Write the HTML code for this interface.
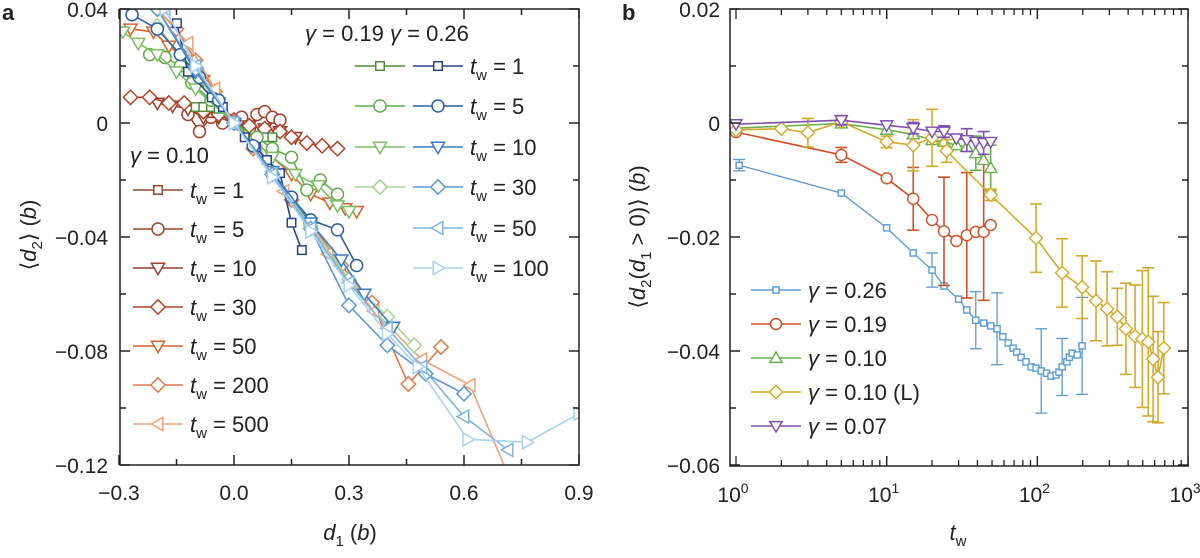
<!DOCTYPE html>
<html><head><meta charset="utf-8">
<style>
body{margin:0;background:#fff;width:1200px;height:553px;overflow:hidden;font-family:"Liberation Sans",sans-serif;}
svg text{font-family:"Liberation Sans",sans-serif;fill:#222;}
</style></head>
<body>
<svg id="c" width="1200" height="553" viewBox="0 0 1200 553" xmlns="http://www.w3.org/2000/svg">
<defs>
<clipPath id="clipA"><rect x="120" y="9" width="459" height="456"/></clipPath>
<clipPath id="clipB"><rect x="730" y="9" width="458" height="457"/></clipPath>
</defs>
</svg>
<script>
// ---------- Panel a data ----------
const a_names=['g010-tw1','g010-tw5','g010-tw10','g010-tw30','g010-tw50','g010-tw200','g010-tw500','g019-tw1','g019-tw5','g019-tw10','g019-tw30','g026-tw1','g026-tw5','g026-tw10','g026-tw30','g026-tw50','g026-tw100'];
const a_colors=['#8c4b2f','#a2412a','#9c3f26','#b2442a','#d9622a','#e07a4c','#eea27a','#4e8c3c','#5fae4c','#79bf63','#a8d594','#23468a','#2e5fa2','#3a7cc4','#5b9ad4','#7fb3e2','#a9d1f0'];
const a_markers=['sq','ci','td','di','td','di','tl','sq','ci','td','di','sq','ci','td','di','tl','tr'];
const a_x=[
[-0.06,-0.05,-0.04,-0.03,-0.02,-0.01,0,0.01,0.02,0.03,0.035],
[-0.12,-0.09,-0.06,-0.03,0,0.02,0.04,0.06,0.08,0.1,0.12],
[-0.2,-0.16,-0.12,-0.08,-0.04,0,0.04,0.08,0.12,0.16],
[-0.27,-0.22,-0.17,-0.13,-0.08,-0.04,0,0.04,0.08,0.12,0.15,0.19,0.23,0.27],
[-0.27,-0.21,-0.17,-0.12,-0.08,-0.04,0,0.05,0.1,0.15,0.2,0.25,0.29,0.32],
[-0.2,-0.15,-0.1,-0.05,0,0.05,0.1,0.15,0.2,0.28,0.36,0.455,0.54],
[-0.2,-0.12,-0.05,0,0.06,0.13,0.2,0.245,0.365,0.49,0.616,0.72],
[-0.1,-0.08,-0.06,-0.04,0,0.06,0.08,0.1],
[-0.22,-0.18,-0.14,-0.11,-0.06,0,0.06,0.1,0.15,0.19,0.225,0.27],
[-0.29,-0.25,-0.2,-0.15,-0.1,0,0.1,0.16,0.22,0.27,0.3],
[-0.2,-0.1,0,0.1,0.2,0.3,0.4,0.47],
[-0.149,-0.12,-0.058,-0.029,0,0.028,0.057,0.086,0.12,0.15,0.177],
[-0.266,-0.2,-0.14,-0.09,-0.04,0,0.05,0.1,0.15,0.2,0.27,0.32],
[-0.2,-0.1,0,0.1,0.2,0.28,0.34,0.415],
[-0.2,-0.1,0,0.1,0.2,0.3,0.4,0.5,0.6],
[-0.18,-0.1,0,0.1,0.2,0.3,0.4,0.49,0.6,0.715],
[-0.18,-0.1,0,0.1,0.2,0.3,0.4,0.48,0.61,0.765,0.9]];
const a_y=[
[0.005,0.004,0.003,0.002,0.0015,0.001,0,-0.0005,-0.001,-0.002,-0.0025],
[0.003,-0.003,0.002,0,0.001,0.002,-0.002,0.003,0.004,0.002,0.001],
[0.007,0.006,0.005,0.002,0.002,0,-0.001,-0.002,-0.003,-0.005],
[0.009,0.009,0.007,0.007,0.004,0.003,0.001,-0.001,-0.002,-0.003,-0.005,-0.007,-0.008,-0.009],
[0.033,0.032,0.027,0.022,0.015,0.007,0,-0.006,-0.012,-0.018,-0.025,-0.028,-0.03,-0.031],
[0.04,0.033,0.022,0.011,0,-0.009,-0.018,-0.027,-0.035,-0.05,-0.063,-0.0916,-0.0786],
[0.04,0.028,0.012,0,-0.01,-0.024,-0.036,-0.046,-0.066,-0.083,-0.092,-0.125],
[0.0056,0.0056,0.0056,0.005,0,-0.005,-0.005,-0.005],
[0.024,0.023,0.02,0.014,0.008,0,-0.005,-0.009,-0.012,-0.0235,-0.02,-0.025],
[0.032,0.028,0.024,0.018,0.012,0,-0.012,-0.018,-0.022,-0.029,-0.031],
[0.034,0.017,0,-0.017,-0.036,-0.055,-0.068,-0.078],
[0.035,0.018,0.009,0.0056,0,-0.005,-0.0085,-0.013,-0.0176,-0.035,-0.0446],
[0.038,0.033,0.024,0.016,0.008,0,-0.008,-0.018,-0.026,-0.034,-0.0375,-0.05],
[0.04,0.018,0,-0.017,-0.035,-0.048,-0.06,-0.0716],
[0.04,0.019,0,-0.018,-0.037,-0.064,-0.078,-0.088,-0.095],
[0.04,0.02,0,-0.018,-0.037,-0.056,-0.072,-0.0856,-0.103,-0.1147],
[0.04,0.02,0,-0.019,-0.038,-0.057,-0.074,-0.0856,-0.111,-0.112,-0.102]];
const a_xticks=[-0.3,0.0,0.3,0.6,0.9];
const a_xtickLabels=['\u22120.3','0.0','0.3','0.6','0.9'];
const a_yticks=[0.04,0,-0.04,-0.08,-0.12];
const a_ytickLabels=['0.04','0','\u22120.04','\u22120.08','\u22120.12'];

// ---------- Panel b data ----------
const b_names=['gamma-026','gamma-019','gamma-010','gamma-010-L','gamma-007'];
const b_colors=['#5b9bd5','#d0502a','#6ab04c','#d4aa2a','#7f4fb0'];
const b_markers=['sq','ci','tu','di','td'];
const b_tw=[
[1.05,5,10,15,20,24,30,34,39,44,49,54,59,64,69,73,78,84,91,98,106,115,123,133,139,146,157,163,170,184,198],
[1,5,10,15,20,24,29,34,39,44,49],
[1,5,10,15,20,24,29,34,39,44,49],
[1,2,3,5,10,15,20,25,49,98,146,198,245,290,339,387,445,497,544,586,632,690],
[1,5,10,15,20,24,29,34,39,44,49]];
const b_v=[
[-0.0074,-0.0123,-0.0184,-0.0228,-0.0258,-0.0286,-0.0309,-0.0328,-0.0346,-0.0351,-0.0356,-0.0361,-0.0375,-0.0386,-0.0395,-0.0402,-0.0411,-0.0419,-0.0428,-0.043,-0.0435,-0.0439,-0.0444,-0.0442,-0.0437,-0.0428,-0.0419,-0.0411,-0.0404,-0.0407,-0.0391],
[-0.0016,-0.0056,-0.0097,-0.0133,-0.017,-0.019,-0.0207,-0.0197,-0.0191,-0.0191,-0.0179],
[-0.0009,-0.0001,-0.0012,-0.002,-0.003,-0.0033,-0.0039,-0.0042,-0.0053,-0.0065,-0.0079],
[-0.0012,-0.001,-0.0017,0.0002,-0.0033,-0.0039,-0.0026,-0.0049,-0.0126,-0.0202,-0.0263,-0.0288,-0.0312,-0.0326,-0.034,-0.0361,-0.0374,-0.0379,-0.0384,-0.0414,-0.0446,-0.0395],
[-0.0002,0.0005,-0.0004,-0.0009,-0.0015,-0.0015,-0.0027,-0.003,-0.0033,-0.0035,-0.0033]];
const b_err=[
[0.001,0,0,0,0.003,0,0,0,0.005,0,0,0.0063,0,0,0,0,0,0,0,0,0.0074,0,0,0,0,0.005,0,0,0,0,0.0085],
[0,0.0013,0,0.0055,0,0.0095,0,0.011,0,0.012,0],
[0,0,0,0,0,0,0,0,0.003,0,0.004],
[0,0,0.0025,0.0005,0.001,0.0045,0.005,0.002,0.001,0.006,0.006,0.0055,0.007,0.0065,0.005,0.008,0.009,0.012,0.013,0.011,0.008,0.008],
[0,0.0008,0,0.001,0,0.001,0,0.002,0,0.002,0]];
const b_labels=['\u03b3 = 0.26','\u03b3 = 0.19','\u03b3 = 0.10','\u03b3 = 0.10 (L)','\u03b3 = 0.07'];
const b_yticks=[0.02,0,-0.02,-0.04,-0.06];
const b_ytickLabels=['0.02','0','\u22120.02','\u22120.04','\u22120.06'];
const b_xdecades=[0,1,2,3];

const NS='http://www.w3.org/2000/svg';
const svg=document.getElementById('c');
function mk(tag,attrs,parent){const e=document.createElementNS(NS,tag);for(const k in attrs)e.setAttribute(k,attrs[k]);(parent||svg).appendChild(e);return e;}

const ax=v=>234+(v)*383.33;
const ay=v=>123-(v)*2850;
const bx=t=>736+Math.log10(t)*150.7;
const by=v=>123-(v)*5700;

function marker(g,type,x,y,r,color,sw){
  let e;
  if(type==='sq') e=mk('rect',{x:x-r*0.85,y:y-r*0.85,width:r*1.7,height:r*1.7},g);
  else if(type==='ci') e=mk('circle',{cx:x,cy:y,r:r},g);
  else if(type==='di') e=mk('polygon',{points:`${x},${y-r*1.2} ${x+r*1.2},${y} ${x},${y+r*1.2} ${x-r*1.2},${y}`},g);
  else if(type==='td') e=mk('polygon',{points:`${x-r*1.1},${y-r*0.8} ${x+r*1.1},${y-r*0.8} ${x},${y+r*1.1}`},g);
  else if(type==='tu') e=mk('polygon',{points:`${x-r*1.1},${y+r*0.8} ${x+r*1.1},${y+r*0.8} ${x},${y-r*1.1}`},g);
  else if(type==='tl') e=mk('polygon',{points:`${x+r*0.8},${y-r*1.1} ${x+r*0.8},${y+r*1.1} ${x-r*1.1},${y}`},g);
  else e=mk('polygon',{points:`${x-r*0.8},${y-r*1.1} ${x-r*0.8},${y+r*1.1} ${x+r*1.1},${y}`},g);
  e.setAttribute('fill','#fff');e.setAttribute('stroke',color);e.setAttribute('stroke-width',sw);
  
  
  return e;
}

// ---------- Panel a ----------
const gA=mk('g',{'clip-path':'url(#clipA)'});


for(let s=0;s<a_x.length;s++){
  const g=mk('g',{},gA);
  
  
  const pts=a_x[s].map((v,i)=>ax(v)+','+ay(a_y[s][i])).join(' ');
  const l=mk('polyline',{points:pts,fill:'none',stroke:a_colors[s],'stroke-width':1.6},g);
  
  
  for(let i=0;i<a_x[s].length;i++) marker(g,a_markers[s],ax(a_x[s][i]),ay(a_y[s][i]),a_markers[s]==='sq'?5:6,a_colors[s],1.5);
}
const fa=mk('rect',{x:120,y:9,width:459,height:456,fill:'none',stroke:'#222','stroke-width':1.5});


for(let v=-0.3;v<=0.9001;v+=0.15){
  const major=Math.abs((v/0.3)-Math.round(v/0.3))<1e-6;const L=major?10:6;
  mk('line',{x1:ax(v),x2:ax(v),y1:465,y2:465-L,stroke:'#222','stroke-width':1.5});
  mk('line',{x1:ax(v),x2:ax(v),y1:9,y2:9+L,stroke:'#222','stroke-width':1.5});
}
for(let v=0.04;v>=-0.12001;v-=0.02){
  const major=Math.abs((v/0.04)-Math.round(v/0.04))<1e-6;const L=major?10:6;
  mk('line',{x1:120,x2:120+L,y1:ay(v),y2:ay(v),stroke:'#222','stroke-width':1.5});
  mk('line',{x1:579,x2:579-L,y1:ay(v),y2:ay(v),stroke:'#222','stroke-width':1.5});
}
a_xticks.forEach((v,i)=>{const t=mk('text',{x:ax(v),y:500,'text-anchor':'middle','font-size':21});t.textContent=a_xtickLabels[i];

});
a_yticks.forEach((v,i)=>{const t=mk('text',{x:108,y:ay(v)+8,'text-anchor':'end','font-size':21});t.textContent=a_ytickLabels[i];

});
function legRow(x0,y,color,m,label,size){
  const g=mk('g',{});
  
  
  mk('line',{x1:x0,x2:x0+50,y1:y,y2:y,stroke:color,'stroke-width':1.6},g);
  marker(g,m,x0+25,y,m==='sq'?(size||5):(size?size+1:6),color,1.5);
  const t=mk('text',{x:x0+57,y:y+8,'font-size':22},g);
  t.innerHTML=label;
  return g;
}
const twL=n=>`<tspan font-style="italic">t</tspan><tspan font-size="15" dy="6">w</tspan><tspan dy="-6"> = ${n}</tspan>`;
const leftTw=[1,5,10,30,50,200,500];
[190,229,268,307,346,385,424].forEach((y,i)=>legRow(133,y,a_colors[i],a_markers[i],twL(leftTw[i])));
const hA=mk('text',{x:130,y:163,'font-size':22});hA.innerHTML='<tspan font-style="italic">γ</tspan> = 0.10';


const hB=mk('text',{x:305,y:41,'font-size':22});hB.innerHTML='<tspan font-style="italic">γ</tspan> = 0.19 <tspan font-style="italic">γ</tspan> = 0.26';


const rightTw=[1,5,10,30,50,100];
[66,106,147,187,228,268].forEach((y,i)=>{
  if(i<4){const g=mk('g',{});mk('line',{x1:355,x2:405,y1:y,y2:y,stroke:a_colors[7+i],'stroke-width':1.6},g);marker(g,a_markers[7+i],380,y,a_markers[7+i]==='sq'?5:6,a_colors[7+i],1.5);
    
    }
  legRow(413,y,a_colors[11+i],a_markers[11+i],twL(rightTw[i]));
});
const ytA=mk('text',{x:0,y:0,'font-size':22,'text-anchor':'middle',transform:'translate(36,235) rotate(-90)'});
ytA.innerHTML='⟨<tspan font-style="italic">d</tspan><tspan font-size="15" dy="6">2</tspan><tspan dy="-6">⟩ (</tspan><tspan font-style="italic">b</tspan>)';


const xtA=mk('text',{x:350,y:540,'font-size':22,'text-anchor':'middle'});
xtA.innerHTML='<tspan font-style="italic">d</tspan><tspan font-size="15" dy="6">1</tspan><tspan dy="-6"> (</tspan><tspan font-style="italic">b</tspan>)';


const la=mk('text',{x:2,y:20,'font-size':22,'font-weight':'bold'});la.textContent='a';



// ---------- Panel b ----------
const gB=mk('g',{'clip-path':'url(#clipB)'});


for(let s=0;s<b_tw.length;s++){
  const g=mk('g',{},gB);
  
  
  const sw=s===0?1.3:1.6;
  for(let i=0;i<b_tw[s].length;i++){const e=b_err[s][i];if(e>0){const x=bx(b_tw[s][i]);
    mk('line',{x1:x,x2:x,y1:by(b_v[s][i]+e),y2:by(b_v[s][i]-e),stroke:b_colors[s],'stroke-width':sw},g);
    mk('line',{x1:x-6,x2:x+6,y1:by(b_v[s][i]+e),y2:by(b_v[s][i]+e),stroke:b_colors[s],'stroke-width':sw},g);
    mk('line',{x1:x-6,x2:x+6,y1:by(b_v[s][i]-e),y2:by(b_v[s][i]-e),stroke:b_colors[s],'stroke-width':sw},g);}}
  const pts=b_tw[s].map((t,i)=>bx(t)+','+by(b_v[s][i])).join(' ');
  const l=mk('polyline',{points:pts,fill:'none',stroke:b_colors[s],'stroke-width':sw},g);
  
  
  for(let i=0;i<b_tw[s].length;i++) marker(g,b_markers[s],bx(b_tw[s][i]),by(b_v[s][i]),s===0?3.6:5.5,b_colors[s],1.4);
}
const fb=mk('rect',{x:730,y:9,width:458,height:457,fill:'none',stroke:'#222','stroke-width':1.5});


for(let d=0;d<3;d++)for(let k=1;k<=10;k++){const x=bx(k*Math.pow(10,d));const L=(k===1||k===10)?10:6;
  mk('line',{x1:x,x2:x,y1:466,y2:466-L,stroke:'#222','stroke-width':1.3});mk('line',{x1:x,x2:x,y1:9,y2:9+L,stroke:'#222','stroke-width':1.3});}
for(let v=0.02;v>=-0.06001;v-=0.01){const major=Math.abs((v/0.02)-Math.round(v/0.02))<1e-6;const L=major?10:6;
  mk('line',{x1:730,x2:730+L,y1:by(v),y2:by(v),stroke:'#222','stroke-width':1.5});
  mk('line',{x1:1188,x2:1188-L,y1:by(v),y2:by(v),stroke:'#222','stroke-width':1.5});}
b_xdecades.forEach(d=>{const t=mk('text',{x:bx(Math.pow(10,d))-3,y:502,'text-anchor':'middle','font-size':21});
  t.innerHTML=`10<tspan font-size="14" dy="-9">${d}</tspan>`;
  
  });
b_yticks.forEach((v,i)=>{const t=mk('text',{x:720,y:by(v)+8,'text-anchor':'end','font-size':21});t.textContent=b_ytickLabels[i];
  
  });
[290,324,358,392,426].forEach((y,i)=>legRow(751,y,b_colors[i],b_markers[i],'<tspan font-style="italic">γ</tspan>'+b_labels[i].slice(1),i===0?3.6:4.5));
const ytB=mk('text',{x:0,y:0,'font-size':22,'text-anchor':'middle',transform:'translate(645,237) rotate(-90)'});
ytB.innerHTML='⟨<tspan font-style="italic">d</tspan><tspan font-size="15" dy="6">2</tspan><tspan dy="-6">(</tspan><tspan font-style="italic">d</tspan><tspan font-size="15" dy="6">1</tspan><tspan dy="-6"> &gt; 0)⟩ (</tspan><tspan font-style="italic">b</tspan>)';


const xtB=mk('text',{x:958,y:540,'font-size':22,'text-anchor':'middle'});
xtB.innerHTML='<tspan font-style="italic">t</tspan><tspan font-size="15" dy="6">w</tspan>';


const lb=mk('text',{x:622,y:20,'font-size':22,'font-weight':'bold'});lb.textContent='b';


</script>
</body></html>
